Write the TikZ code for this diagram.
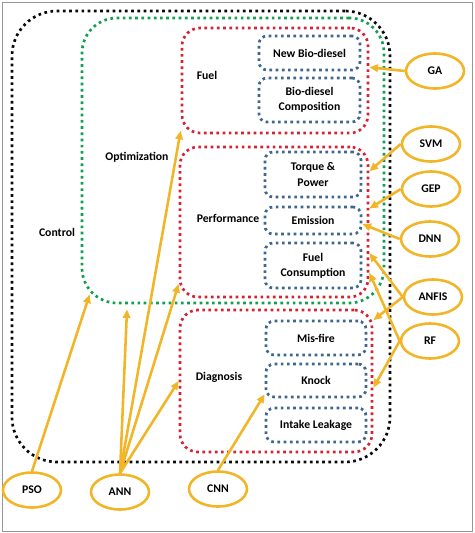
\documentclass[tikz,border=0pt]{standalone}
\usepackage{fontspec}
\setmainfont{Carlito}
\usepackage{tikz}
\usetikzlibrary{arrows.meta,shapes.geometric,calc}
\definecolor{ctlblack}{RGB}{10,10,10}
\definecolor{optgreen}{RGB}{18,160,80}
\definecolor{grpred}{RGB}{212,36,52}
\definecolor{itemblue}{RGB}{62,102,142}
\definecolor{algogold}{RGB}{242,181,40}
\definecolor{framegray}{RGB}{150,150,150}

\begin{document}
\begin{tikzpicture}[x=0.03cm, y=-0.03cm,
  dotbox/.style={draw=#1, line width=2.3pt, dash pattern=on 2.3pt off 3pt,
                 inner sep=0pt},
  grp/.style={dotbox=grpred, rounded corners=0.54cm},
  item/.style={dotbox=itemblue, rounded corners=0.24cm,
               font=\fontsize{10}{13}\selectfont\bfseries, align=center},
  tag/.style={font=\fontsize{10}{13}\selectfont\bfseries},
  algo/.style={ellipse, draw=algogold, line width=2.2pt,
               minimum width=1.74cm, minimum height=1.05cm,
               font=\fontsize{10}{13}\selectfont\bfseries},
  link/.style={draw=algogold, line width=2.2pt,
               -{Triangle[length=0.26cm, width=0.22cm]}}]
  \useasboundingbox (0,0) rectangle (474,533);
  \draw[framegray, line width=0.8pt] (2,2) rectangle (472,531);
  \node[dotbox=ctlblack, rounded corners=1.35cm,
        minimum width=11.34cm, minimum height=13.53cm] (ctl) at (201,236.5) {};
  \node[dotbox=optgreen, rounded corners=1.05cm,
        minimum width=9.06cm, minimum height=8.55cm]  (opt) at (233,160.5) {};
  \node[grp, minimum width=5.58cm, minimum height=3.15cm] (fue) at (275,80.5) {};
  \node[grp, minimum width=5.64cm, minimum height=4.5cm]  (prf) at (274,222)  {};
  \node[grp, minimum width=5.76cm, minimum height=4.26cm] (dia) at (276,381)  {};
  \node[item, minimum width=3.03cm, minimum height=1.02cm] (nbd) at (309.5,53)  {New Bio-diesel};
  \node[item, minimum width=3.03cm, minimum height=1.32cm] (bdc) at (309.5,100) {Bio-diesel\\Composition};
  \node[item, minimum width=2.88cm, minimum height=1.35cm] (tqp) at (313,174.5)  {Torque \&\\Power};
  \node[item, minimum width=2.88cm, minimum height=0.81cm] (emi) at (313,220.5)  {Emission};
  \node[item, minimum width=2.88cm, minimum height=1.35cm] (fco) at (313,265.5)  {Fuel\\Consumption};
  \node[item, minimum width=3.0cm,  minimum height=1.02cm] (mis) at (316,338)    {Mis-fire};
  \node[item, minimum width=3.0cm,  minimum height=0.99cm] (kno) at (316,380.5)  {Knock};
  \node[item, minimum width=3.0cm,  minimum height=1.02cm] (ilk) at (316,425)    {Intake Leakage};
  \node[tag] (tfue) at (207,75)  {Fuel};
  \node[tag] (topt) at (137,157) {Optimization};
  \node[tag] (tprf) at (228,218) {Performance};
  \node[tag] (tctl) at (57,232)  {Control};
  \node[tag] (tdia) at (219,377) {Diagnosis};
  \node[algo] (ga)  at (435,71)  {GA};
  \node[algo] (svm) at (431,144) {SVM};
  \node[algo] (gep) at (431,189) {GEP};
  \node[algo] (dnn) at (430,239) {DNN};
  \node[algo] (anf) at (433,297) {ANFIS};
  \node[algo] (rf)  at (430,341) {RF};
  \node[algo] (pso) at (32,490)  {PSO};
  \node[algo] (ann) at (120,492) {ANN};
  \node[algo] (cnn) at (218,489) {CNN};
  \draw[link] (ga.west)  -- (fue.8);
  \draw[link] (svm.west) -- (prf.28);
  \draw[link] (gep.west) -- (prf.8);
  \draw[link] (dnn.west) -- (emi.-4);
  \draw[link] (anf.west) -- (prf.-18);
  \draw[link] (rf.west)  -- (prf.-28);
  \draw[link] (anf.west) -- (dia.32);
  \draw[link] (rf.west)  -- (dia.-4);
  \draw[link] (pso.north) -- ($(opt.south west)+(9,-10)$);
  \draw[link] (ann.north) -- ($(opt.south)+(-106,5)$);
  \draw[link] (ann.north) -- (fue.208);
  \draw[link] (ann.north) -- (prf.213);
  \draw[link] (ann.north) -- (dia.west);
  \draw[link] (cnn.north) -- (kno.195);
\end{tikzpicture}
\end{document}
